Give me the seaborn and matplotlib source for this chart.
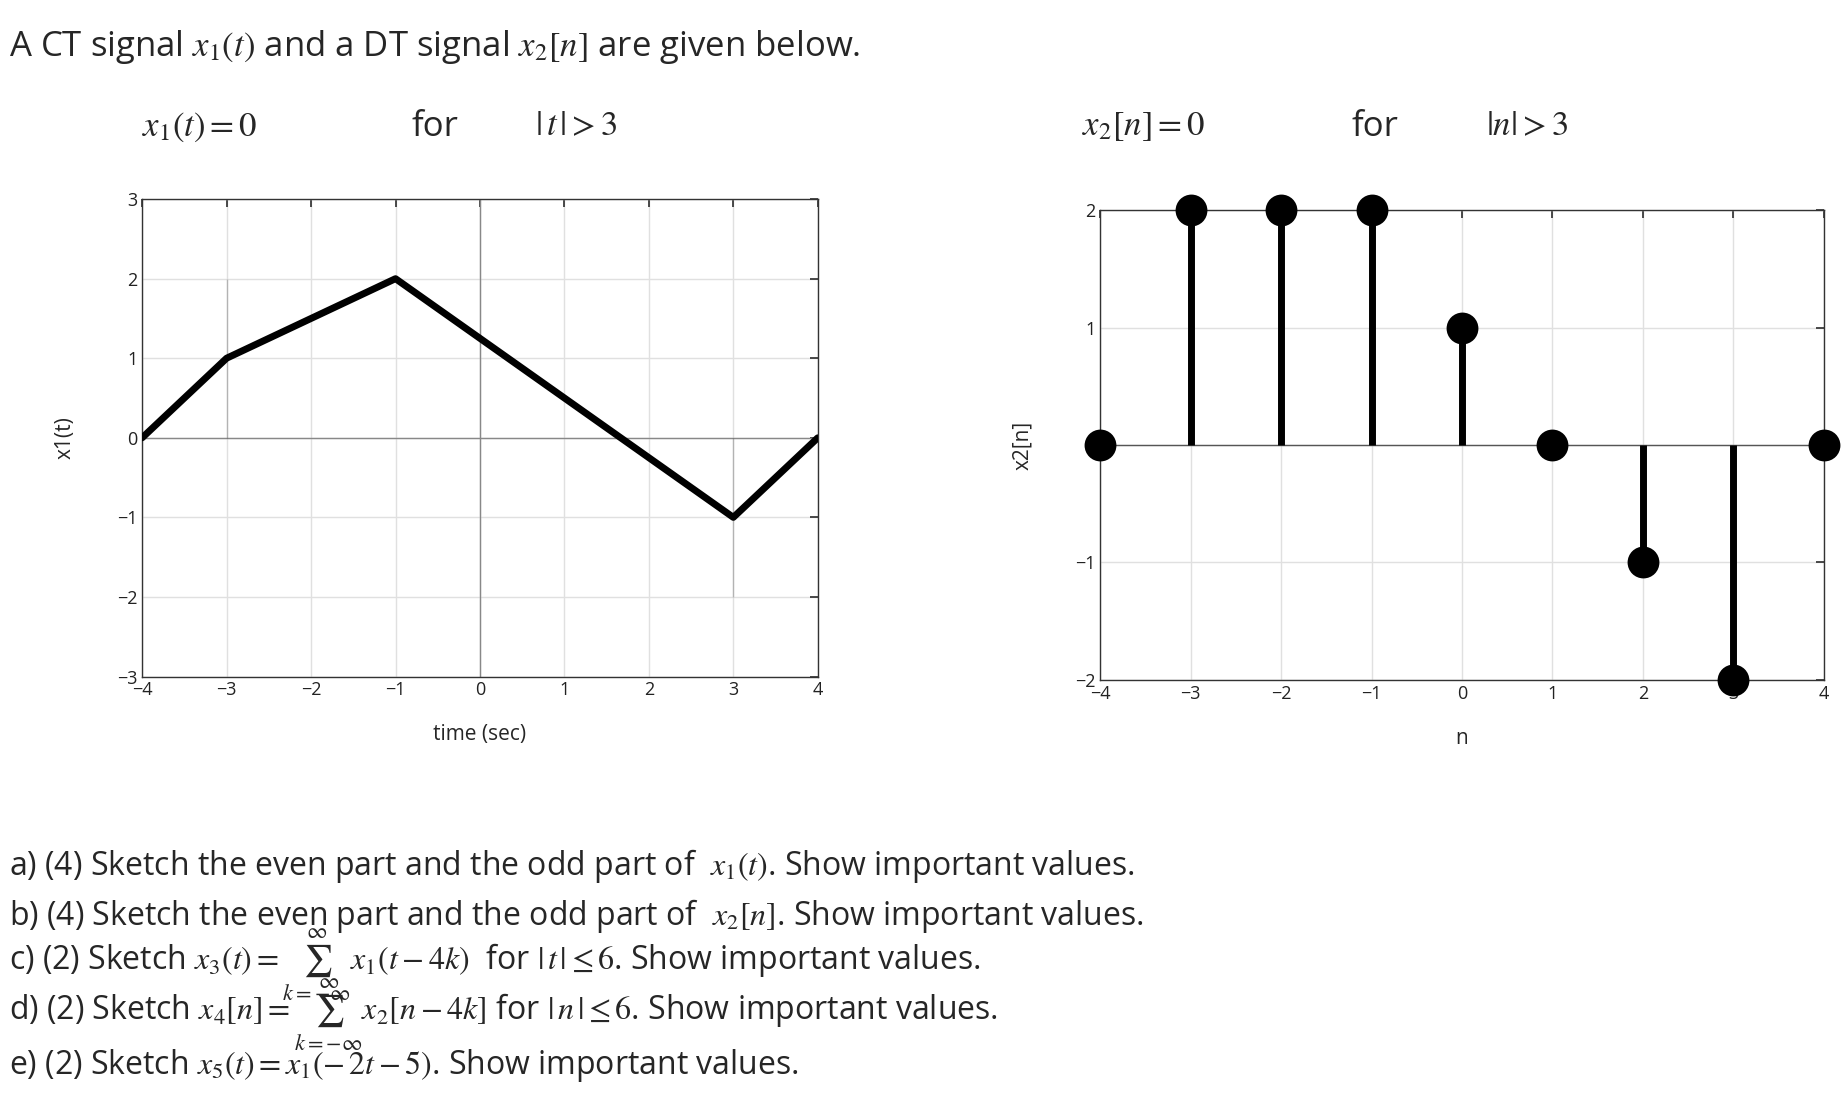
import matplotlib
matplotlib.use("Agg")
import matplotlib.pyplot as plt
import seaborn as sns
import pandas as pd

sns.set_theme(style="white")
plt.rcParams['font.family'] = ['Open Sans', 'DejaVu Sans']
plt.rcParams['mathtext.fontset'] = 'stix'

t_vals = [-4, -3, -3, -1, 3, 3, 4]
x1_vals = [0, 0, 2, 2, -2, 0, 0]
n_vals = [-4, -3, -2, -1, 0, 1, 2, 3, 4]
x2_vals = [0, 2, 2, 2, 1, 0, -1, -2, 0]
xt1 = [-4, -3, -2, -1, 0, 1, 2, 3, 4]
yt1 = [-3, -2, -1, 0, 1, 2, 3]
yt2 = [-2, -1, 0, 1, 2]

fig = plt.figure(figsize=(18.46, 11), dpi=100)

def style(ax):
    ax.grid(True, color='#e0e0e0', linewidth=1)
    for s in ax.spines.values():
        s.set_color('#333333'); s.set_linewidth(1)
    ax.tick_params(direction='in', top=True, right=True, length=6, labelsize=13,
                   color='#333333', labelcolor='#222222')
    ax.set_axisbelow(True)

ax1 = fig.add_axes([0.077, 0.385, 0.366, 0.434])
df1 = pd.DataFrame({'t': t_vals, 'x1': x1_vals})
ax1.axhline(0, color='#888888', lw=1, zorder=1)
ax1.axvline(0, color='#888888', lw=1, zorder=1)
sns.lineplot(data=df1, x='t', y='x1', sort=False, color='black', lw=5, ax=ax1, zorder=3)
ax1.set_xlim(-4, 4); ax1.set_ylim(-3, 3)
ax1.set_xticks(xt1); ax1.set_yticks(yt1)
style(ax1)
ax1.set_xlabel('time (sec)', fontsize=15, labelpad=18)
ax1.set_ylabel('x1(t)', fontsize=15, labelpad=30)

ax2 = fig.add_axes([0.596, 0.382, 0.392, 0.427])
df2 = pd.DataFrame({'n': n_vals, 'x2': x2_vals})
ax2.axhline(0, color='#555555', lw=1, zorder=1)
ax2.vlines(n_vals, 0, x2_vals, color='black', lw=5, zorder=3)
sns.scatterplot(data=df2, x='n', y='x2', color='black', s=450, ax=ax2, zorder=4,
                edgecolor='black', clip_on=False)
ax2.set_xlim(-4, 4); ax2.set_ylim(-2, 2)
ax2.set_xticks(xt1); ax2.set_yticks(yt2)
style(ax2)
ax2.set_xlabel('n', fontsize=15, labelpad=18)
ax2.set_ylabel('x2[n]', fontsize=15, labelpad=30)

fs = 25
fig.text(0.005, 0.975, r'A CT signal $x_1(t)$ and a DT signal $x_2[n]$ are given below.',
         fontsize=fs, va='top')
fig.text(0.077, 0.885, r'$x_1(t) = 0$', fontsize=fs, va='center')
fig.text(0.223, 0.885, 'for', fontsize=fs, va='center')
fig.text(0.29, 0.885, r'$|\,t\,| > 3$', fontsize=fs, va='center')
fig.text(0.586, 0.885, r'$x_2[n] = 0$', fontsize=fs, va='center')
fig.text(0.732, 0.885, 'for', fontsize=fs, va='center')
fig.text(0.805, 0.885, r'$|n| > 3$', fontsize=fs, va='center')

lines = [
    r'a) (4) Sketch the even part and the odd part of  $x_1(t)$. Show important values.',
    r'b) (4) Sketch the even part and the odd part of  $x_2[n]$. Show important values.',
    r'c) (2) Sketch $x_3(t) = \sum_{k=-\infty}^{\infty} x_1(t-4k)$  for $|\,t\,| \leq 6$. Show important values.',
    r'd) (2) Sketch $x_4[n] = \sum_{k=-\infty}^{\infty} x_2[n-4k]$ for $|\,n\,| \leq 6$. Show important values.',
    r'e) (2) Sketch $x_5(t) = x_1(-\,2t - 5)$. Show important values.',
]
y0 = 0.213
for i, s in enumerate(lines):
    fig.text(0.005, y0 - i * 0.0455, s, fontsize=23, va='center')

fig.savefig('out.png', dpi=100, facecolor='white')
